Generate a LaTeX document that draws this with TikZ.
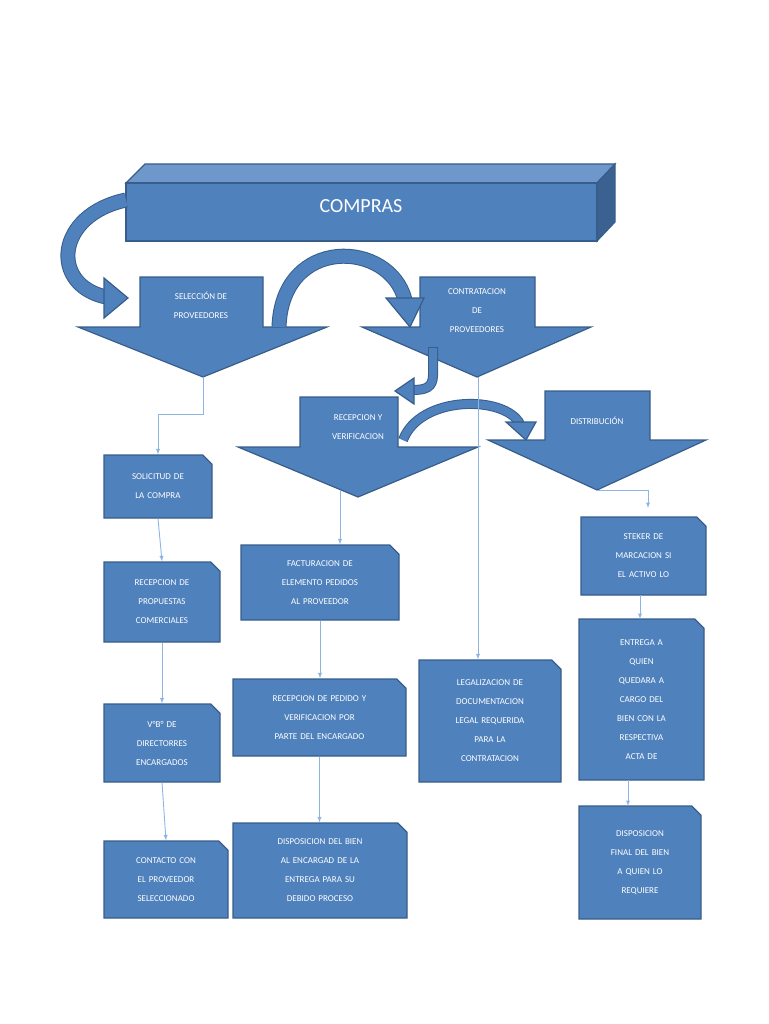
\documentclass[tikz,border=0pt]{standalone}
\usepackage{fontspec}
\setmainfont{Carlito}
\usetikzlibrary{shapes.misc}
\definecolor{fillb}{HTML}{4F81BD}
\definecolor{edgeb}{HTML}{385D8A}
\definecolor{topb}{HTML}{6E97CB}
\definecolor{lineb}{HTML}{8EB4E3}
\tikzset{
  shp/.style={fill=fillb, draw=edgeb, line width=1.2pt},
  lbl/.style={text=white, align=center, font=\fontsize{9}{19}\selectfont},
  box/.style={chamfered rectangle, chamfered rectangle corners=north east,
    chamfered rectangle xsep=6pt, fill=fillb, draw=edgeb, line width=1.2pt,
    text=white, align=center, font=\fontsize{9}{19}\selectfont, inner sep=2pt},
  con/.style={draw=lineb, line width=0.9pt, -latex},
  band/.style={line width=13pt, draw=fillb}
}
\newcommand{\bx}[6]{\node[box, minimum width=#4-#2, minimum height=#5-#3,
  text width=#4-#2-14] (#1) at ({(#2+#4)/2},{(#3+#5)/2}) {#6};}
\begin{document}
\begin{tikzpicture}[x=1pt,y=-1pt]
\useasboundingbox (0,0) rectangle (768,1024);
% COMPRAS
\draw[shp, fill=topb] (126,183) -- (145,164) -- (615,164) -- (597,183) -- cycle;
\draw[shp, fill=edgeb!90!fillb] (597,183) -- (615,164) -- (615,222) -- (597,241) -- cycle;
\draw[shp] (126,183) rectangle (597,241);
\node[text=white, font=\fontsize{20}{24}\selectfont] (compras) at (361,206) {COMPRAS};
% left curved arrow
\draw[edgeb, line width=15pt] (126,200) .. controls (55,215) and (50,285) .. (106,297);
\draw[band] (126,200) .. controls (55,215) and (50,285) .. (106,297);
\draw[shp] (104,278) -- (128,298) -- (104,318) -- cycle;
% SELECCION arrow
\draw[shp] (140,277) -- (263,277) -- (263,327) -- (327,327) -- (203,377) -- (78,327) -- (140,327) -- cycle;
\node[lbl] (sel) at (201,305) {SELECCIÓN DE\\PROVEEDORES};
% CONTRATACION arrow
\draw[shp] (420,277) -- (535,277) -- (535,327) -- (591,327) -- (477,377) -- (362,327) -- (420,327) -- cycle;
\node[lbl] (cont) at (477,311) {CONTRATACION\\DE\\PROVEEDORES};
% top curved arrow
\draw[edgeb, line width=15pt] (279,327) .. controls (282,235) and (390,240) .. (405,300);
\draw[band] (279,327) .. controls (282,235) and (390,240) .. (405,300);
\draw[shp] (386,298) -- (424,298) -- (410,327) -- cycle;
% RECEPCION arrow
\draw[shp] (300,397) -- (398,397) -- (398,447) -- (478,447) -- (358,497) -- (238,447) -- (300,447) -- cycle;
\node[lbl] (rec) at (358,427) {RECEPCION Y\\VERIFICACION};
% small bent arrow
\draw[edgeb, line width=10pt] (433,347) -- (433,375) .. controls (433,388) and (425,390) .. (412,390);
\draw[fillb, line width=8pt] (433,348) -- (433,375) .. controls (433,388) and (425,390) .. (412,390);
\draw[shp] (414,378) -- (395,391) -- (414,404) -- cycle;
% DISTRIBUCION arrow
\draw[shp] (545,391) -- (650,391) -- (650,440) -- (706,440) -- (597,490) -- (488,440) -- (545,440) -- cycle;
\node[lbl] (dist) at (597,421) {DISTRIBUCIÓN};
% recep curved arrow
\draw[edgeb, line width=10pt] (403,440) .. controls (420,395) and (505,395) .. (520,424);
\draw[fillb, line width=8pt] (403,440) .. controls (420,395) and (505,395) .. (520,424);
\draw[shp] (506,422) -- (536,422) -- (526,440) -- cycle;
% boxes
\bx{b1}{105}{455}{211}{518}{SOLICITUD DE\\LA COMPRA}
\bx{b2}{105}{562}{219}{642}{RECEPCION DE\\PROPUESTAS\\COMERCIALES}
\bx{b3}{105}{704}{219}{782}{V°B° DE\\DIRECTORRES\\ENCARGADOS}
\bx{b4}{105}{841}{227}{918}{CONTACTO CON\\EL PROVEEDOR\\SELECCIONADO}
\bx{c1}{242}{545}{398}{620}{FACTURACION DE\\ELEMENTO PEDIDOS\\AL PROVEEDOR}
\bx{c2}{234}{679}{405}{756}{RECEPCION DE PEDIDO Y\\VERIFICACION POR\\PARTE DEL ENCARGADO}
\bx{c3}{234}{823}{406}{918}{DISPOSICION DEL BIEN\\AL ENCARGAD DE LA\\ENTREGA PARA SU\\DEBIDO PROCESO}
\bx{l1}{420}{660}{560}{782}{LEGALIZACION DE\\DOCUMENTACION\\LEGAL REQUERIDA\\PARA LA\\CONTRATACION}
\bx{d1}{582}{517}{705}{595}{STEKER DE\\MARCACION SI\\EL ACTIVO LO}
\bx{d2}{580}{619}{703}{780}{ENTREGA A\\QUIEN\\QUEDARA A\\CARGO DEL\\BIEN CON LA\\RESPECTIVA\\ACTA DE}
\bx{d3}{580}{806}{700}{919}{DISPOSICION\\FINAL DEL BIEN\\A QUIEN LO\\REQUIERE}
% connectors
\coordinate (s1) at (203,377);
\coordinate (r1) at (340,490);
\coordinate (k1) at (478,377);
\coordinate (t1) at (597,490);
\draw[con] (s1) -- (203,414) -| (b1.north);
\draw[con] (b1.south) -- (b2.north);
\draw[con] (b2.south) -- (b3.north);
\draw[con] (b3.south) -- (b4.north);
\draw[con] (r1) -- (r1 |- c1.north);
\draw[con] (c1.south) -- (c1.south |- c2.north);
\draw[con] (c2.south) -- (c2.south |- c3.north);
\draw[con] (k1) -- (k1 |- l1.north);
\draw[con] (t1) -- (648,490) -- (648,508);
\draw[con] (640,595) -- (640,619);
\draw[con] (628,780) -- (628,806);
\end{tikzpicture}
\end{document}
